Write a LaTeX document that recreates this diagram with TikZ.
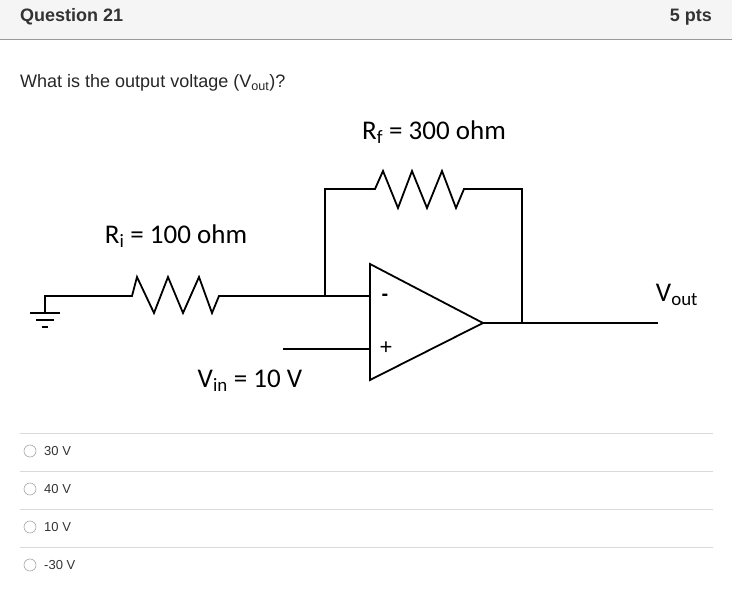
\documentclass[tikz,border=0pt]{standalone}
\usepackage{fontspec}
\setmainfont{Liberation Sans}
\newfontfamily\carlitofont{Carlito}
\begin{document}
\begin{tikzpicture}[x=1pt,y=-1pt,
  wire/.style={line width=1.8pt,line join=miter},
  sep/.style={draw=black!15,line width=0.8pt},
  radio/.style={circle,draw=black!35,line width=0.6pt,minimum size=12pt,inner sep=0pt},
  ans/.style={anchor=west,font=\fontsize{13}{15}\selectfont,text=black!80,inner sep=0pt},
  lab/.style={font=\carlitofont\fontsize{27}{30}\selectfont,inner sep=0pt}]
\useasboundingbox (0,0) rectangle (732,602);
\fill[black!4] (0,0) rectangle (732,40);
\draw[black!40,line width=1pt] (0,40) -- (732,40);
\node[anchor=west,font=\bfseries\fontsize{18}{20}\selectfont,text=black!80,inner sep=0pt] (q) at (20,17) {Question 21};
\node[anchor=east,font=\bfseries\fontsize{18}{20}\selectfont,text=black!80,inner sep=0pt] (pts) at (712,17) {5 pts};
\node[anchor=west,font=\fontsize{18}{20}\selectfont,text=black!85,inner sep=0pt] (txt) at (20,83) {What is the output voltage (V\textsubscript{out})?};
% coordinates
\coordinate (g) at (45,296);
\coordinate (j1) at (325,296);
\coordinate (j2) at (522,323);
\coordinate (inm) at (370,296);
\coordinate (inp) at (370,349);
\coordinate (pin) at (283,349);
\coordinate (tip) at (483,323);
\coordinate (out) at (658,323);
% ground
\draw[wire] (45,313) -- (g) -- (132,296) -- (137,277) -- (154,313) -- (168,277) -- (183,313) -- (199,277) -- (212,313) -- (219,296) -- (j1) -- (inm);
\draw[wire] (30,313) -- (60,313);
\draw[wire] (36,320) -- (54,320);
\draw[wire] (42,327) -- (48,327);
% feedback
\draw[wire] (j1) -- (325,189) -- (375,189) -- (383,171) -- (398,208) -- (412,171) -- (427,208) -- (442,171) -- (456,208) -- (464,189) -- (522,189) -- (j2);
% op amp
\draw[wire] (370,264) -- (tip) -- (370,380) -- cycle;
\draw[wire] (pin) -- (inp);
\draw[wire] (tip) -- (out);
\node[font=\fontsize{20}{22}\selectfont\bfseries,inner sep=0pt] (minus) at (385,297) {-};
\node[font=\fontsize{22}{24}\selectfont,inner sep=0pt] (plus) at (386,348) {+};
% labels
\node[lab] (rf) at (434,132) {R\textsubscript{f} = 300 ohm};
\node[lab] (ri) at (176,236) {R\textsubscript{i} = 100 ohm};
\node[lab] (vin) at (250,381) {V\textsubscript{in} = 10 V};
\node[lab] (vout) at (677,295) {V\textsubscript{out}};
% answers
\foreach \y/\t [count=\i] in {433/30 V,471/40 V,509/10 V,547/-30 V}{
  \draw[sep] (20,\y) -- (713,\y);
  \node[radio] (r\i) at (30,\y+18) {};
  \node[ans] (a\i) at (44,\y+18) {\t};
}
\end{tikzpicture}
\end{document}
